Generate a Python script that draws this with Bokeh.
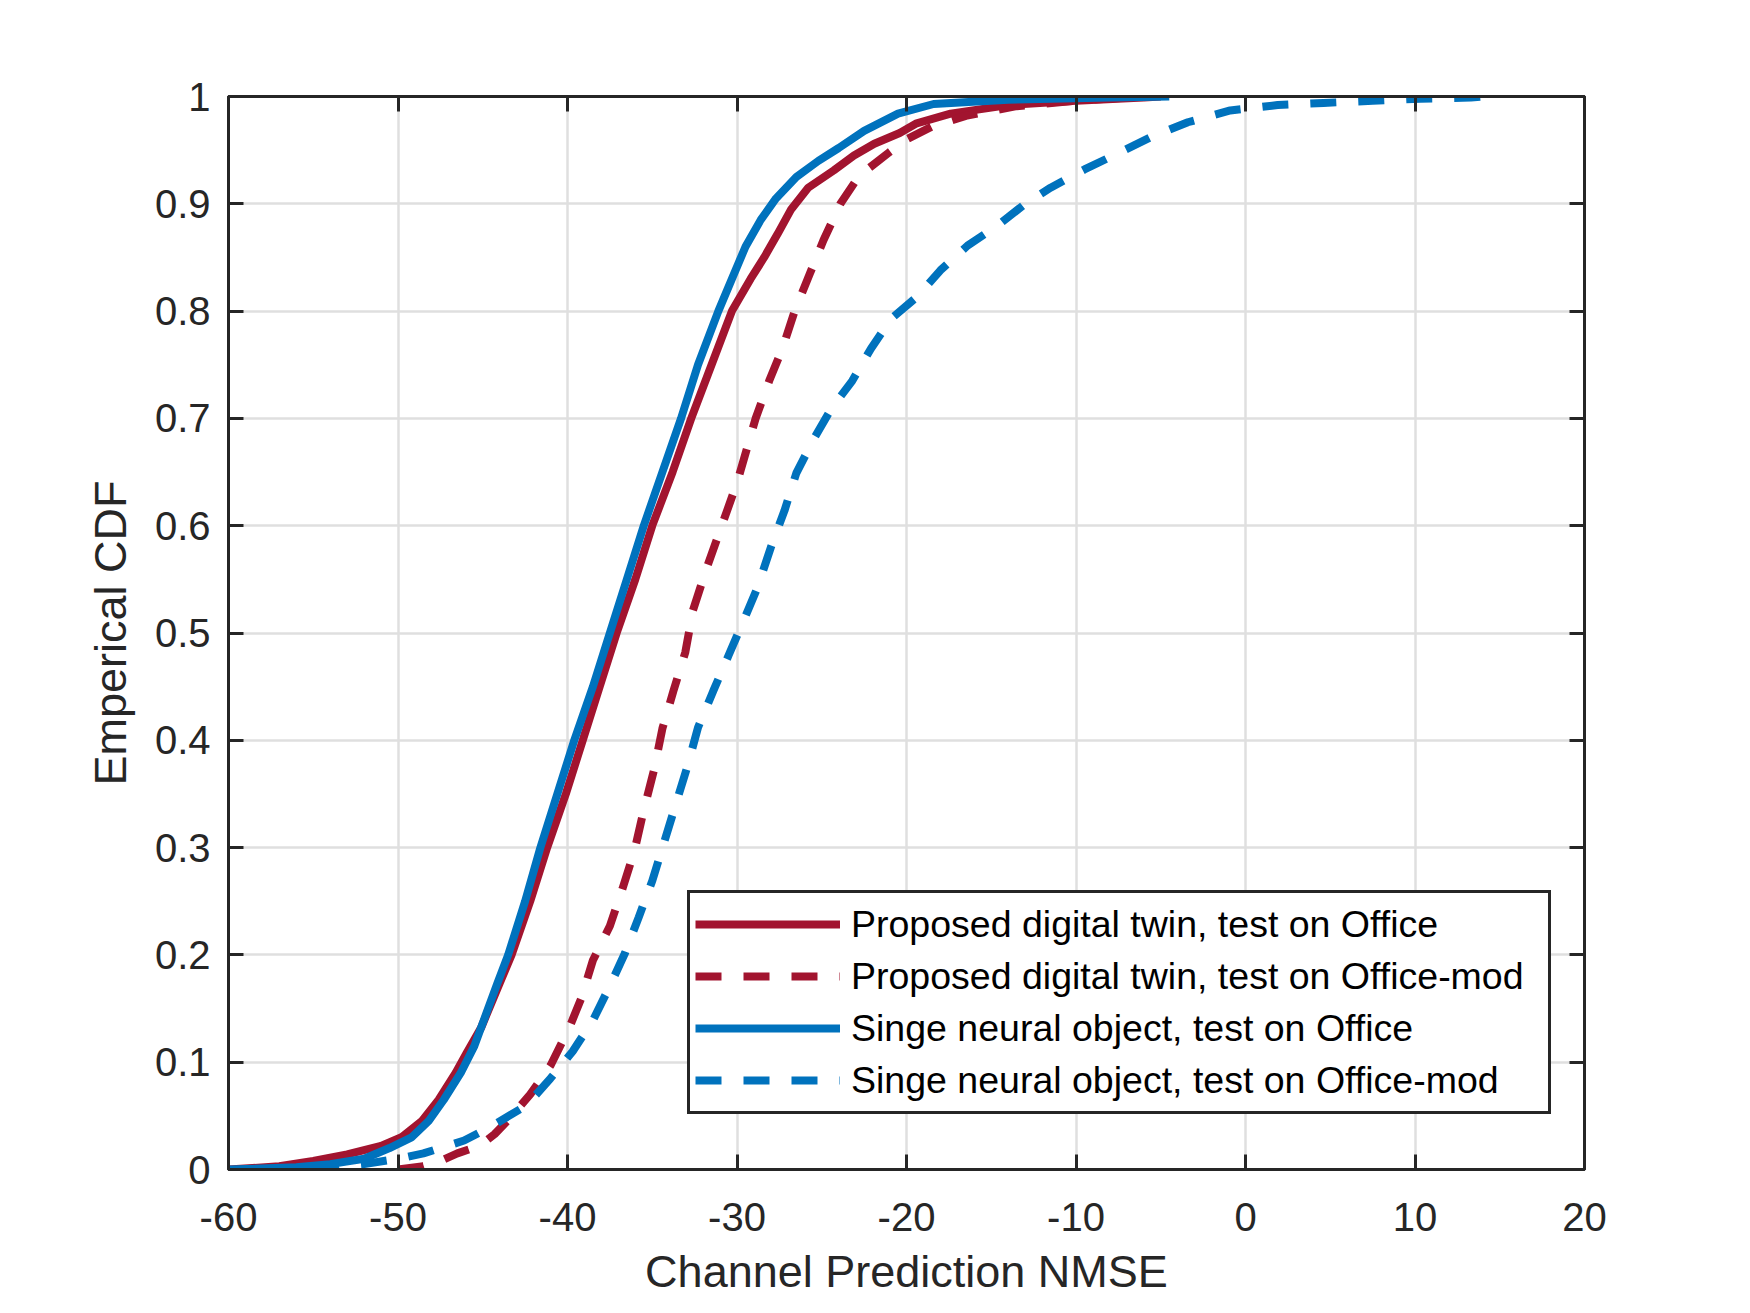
from bokeh.plotting import figure
from bokeh.models import Range1d, LinearAxis, FixedTicker, Legend, LegendItem
from bokeh.embed import file_html
from bokeh.resources import INLINE

# ---- data ----
x_ticks = [-60, -50, -40, -30, -20, -10, 0, 10, 20]
x_tick_labels = ["-60", "-50", "-40", "-30", "-20", "-10", "0", "10", "20"]
y_ticks = [0, 0.1, 0.2, 0.3, 0.4, 0.5, 0.6, 0.7, 0.8, 0.9, 1.0]
y_tick_labels = ["0", "0.1", "0.2", "0.3", "0.4", "0.5", "0.6", "0.7", "0.8", "0.9", "1"]

labels = [
    "Proposed digital twin, test on Office",
    "Proposed digital twin, test on Office-mod",
    "Singe neural object, test on Office",
    "Singe neural object, test on Office-mod",
]

dt_office_x = [-60, -57, -55, -53, -51, -49.8, -48.6, -47.6, -46.6, -45.9, -45.1, -44.1, -43.3, -42.2,
               -41.2, -40.1, -39.1, -38.1, -37.1, -36.0, -35.0, -33.8, -32.7, -31.5, -30.3, -29.2,
               -28.4, -27.6, -26.8, -25.8, -24.3, -23.1, -21.9, -20.4, -19.4, -17.4, -14, -10, -6, -5]
dt_office_y = [0, 0.003, 0.008, 0.014, 0.022, 0.03, 0.045, 0.065, 0.09, 0.11, 0.132, 0.17, 0.2, 0.25,
               0.3, 0.35, 0.4, 0.45, 0.5, 0.55, 0.6, 0.65, 0.7, 0.75, 0.8, 0.83,
               0.85, 0.872, 0.895, 0.915, 0.931, 0.945, 0.956, 0.966, 0.975, 0.984, 0.992, 0.996, 0.999, 1.0]

dt_mod_x = [-50, -48.5, -47.5, -46.5, -45.2, -44.3, -43.5, -42.2, -41, -39.9, -39.2, -38.5, -37.5,
            -36.75, -36.05, -35.5, -34.9, -34.4, -33.75, -33.05, -32.6, -31.8, -30.9, -30.0, -28.9,
            -28.1, -27.3, -26.6, -25.7, -24.9, -23.9, -22.8, -21.1, -20, -18.5, -16.5, -13.5, -10, -6]
dt_mod_y = [0, 0.003, 0.008, 0.015, 0.022, 0.033, 0.046, 0.07, 0.097, 0.132, 0.159, 0.195, 0.227,
            0.262, 0.297, 0.335, 0.372, 0.411, 0.446, 0.482, 0.521, 0.56, 0.6, 0.64, 0.7,
            0.735, 0.766, 0.8, 0.835, 0.866, 0.9, 0.926, 0.947, 0.96, 0.972, 0.982, 0.991, 0.996, 1.0]

sn_office_x = [-60, -56, -54, -52, -50.5, -49.2, -48.2, -47.3, -46.3, -45.5, -44.8, -44.1, -43.5, -42.5,
               -41.6, -40.6, -39.6, -38.5, -37.5, -36.5, -35.5, -34.4, -33.3, -32.3, -31.1, -30.3,
               -29.5, -28.6, -27.7, -26.5, -25.2, -24.0, -22.5, -20.5, -18.4, -14, -8, -4.5]
sn_office_y = [0, 0.002, 0.005, 0.01, 0.02, 0.03, 0.045, 0.065, 0.09, 0.115, 0.145, 0.175, 0.2, 0.25,
               0.3, 0.35, 0.4, 0.45, 0.5, 0.55, 0.6, 0.65, 0.7, 0.75, 0.8, 0.83,
               0.86, 0.885, 0.905, 0.925, 0.94, 0.952, 0.968, 0.984, 0.993, 0.997, 0.999, 1.0]

sn_mod_x = [-55, -52, -50, -48.5, -46.1, -44.4, -42.4, -41, -39.7, -38.5, -37.5, -36.6, -35.8, -35,
            -34.3, -33.6, -32.9, -32.3, -31.4, -30.5, -29.6, -28.8, -28.0, -27.2, -26.5, -25.5,
            -24.4, -23.2, -22.1, -20.9, -19.4, -18.0, -16.4, -14.6, -13, -11.5, -9.5, -7.4, -5.6,
            -3.4, -0.9, 1.9, 4.6, 7.5, 10.3, 13.3, 14]
sn_mod_y = [0, 0.005, 0.01, 0.015, 0.027, 0.041, 0.06, 0.085, 0.11, 0.139, 0.171, 0.202, 0.235, 0.269,
            0.305, 0.341, 0.377, 0.412, 0.446, 0.479, 0.512, 0.542, 0.58, 0.614, 0.649, 0.68,
            0.71, 0.735, 0.765, 0.793, 0.813, 0.838, 0.861, 0.88, 0.9, 0.915, 0.932, 0.948, 0.962,
            0.976, 0.987, 0.992, 0.994, 0.996, 0.998, 0.999, 1.0]

RED = "#A2142F"
BLUE = "#0072BD"
DARK = "#262626"
FONT = "Liberation Sans"

p = figure(width=1750, height=1313, x_range=Range1d(-60, 20), y_range=Range1d(0, 1),
           output_backend="svg", toolbar_location=None,
           min_border_left=228, min_border_right=166, min_border_top=96, min_border_bottom=144)
p.background_fill_color = "white"
p.border_fill_color = "white"
p.outline_line_color = DARK
p.outline_line_width = 3
p.outline_line_alpha = 1

for ax in (p.xaxis[0], p.yaxis[0]):
    ax.major_tick_in = 15
    ax.major_tick_out = 0
    ax.minor_tick_line_color = None
    ax.major_tick_line_color = DARK
    ax.major_tick_line_width = 3
    ax.axis_line_color = DARK
    ax.axis_line_width = 3
    ax.major_label_text_font = FONT
    ax.major_label_text_font_size = "40px"
    ax.major_label_text_color = DARK
    ax.axis_label_text_font = FONT
    ax.axis_label_text_font_size = "45px"
    ax.axis_label_text_font_style = "normal"
    ax.axis_label_text_color = DARK

p.xaxis.ticker = FixedTicker(ticks=x_ticks)
p.yaxis.ticker = FixedTicker(ticks=y_ticks)
p.xaxis.major_label_overrides = {t: l for t, l in zip(x_ticks, x_tick_labels)}
p.yaxis.major_label_overrides = {t: l for t, l in zip(y_ticks, y_tick_labels)}
p.xaxis.major_label_standoff = 33
p.yaxis.major_label_standoff = 18
p.xaxis.axis_label = "Channel Prediction NMSE"
p.yaxis.axis_label = "Emperical CDF"
p.xaxis.axis_label_standoff = 12
p.yaxis.axis_label_standoff = 16

for loc, tk in (("above", x_ticks), ("right", y_ticks)):
    ax = LinearAxis(ticker=FixedTicker(ticks=tk))
    ax.major_tick_in = 15
    ax.major_tick_out = 0
    ax.minor_tick_line_color = None
    ax.major_tick_line_color = DARK
    ax.major_tick_line_width = 3
    ax.axis_line_color = DARK
    ax.axis_line_width = 3
    ax.major_label_text_font_size = "0px"
    ax.major_label_text_alpha = 0
    p.add_layout(ax, loc)

p.xgrid.ticker = FixedTicker(ticks=x_ticks)
p.ygrid.ticker = FixedTicker(ticks=y_ticks)
p.grid.grid_line_color = "#dfdfdf"
p.grid.grid_line_width = 2.5
p.grid.grid_line_alpha = 1

LW = 8
DASH = "26 22"
r1 = p.line(dt_office_x, dt_office_y, line_color=RED, line_width=LW)
r2 = p.line(dt_mod_x, dt_mod_y, line_color=RED, line_width=LW, line_dash=DASH)
r3 = p.line(sn_office_x, sn_office_y, line_color=BLUE, line_width=LW)
r4 = p.line(sn_mod_x, sn_mod_y, line_color=BLUE, line_width=LW, line_dash=DASH)

legend = Legend(items=[LegendItem(label=lab, renderers=[r]) for lab, r in zip(labels, [r1, r2, r3, r4])],
                location=(459, 55))
legend.border_line_color = DARK
legend.border_line_width = 3
legend.border_line_alpha = 1
legend.background_fill_color = "white"
legend.background_fill_alpha = 1
legend.label_text_font = FONT
legend.label_text_font_size = "37.5px"
legend.label_text_color = "black"
legend.glyph_width = 145
legend.glyph_height = 52
legend.label_height = 52
legend.label_width = 692
legend.label_standoff = 11
legend.spacing = 0
legend.padding = 5
legend.margin = 0
p.add_layout(legend)

open("out.html", "w").write(file_html(p, INLINE))
